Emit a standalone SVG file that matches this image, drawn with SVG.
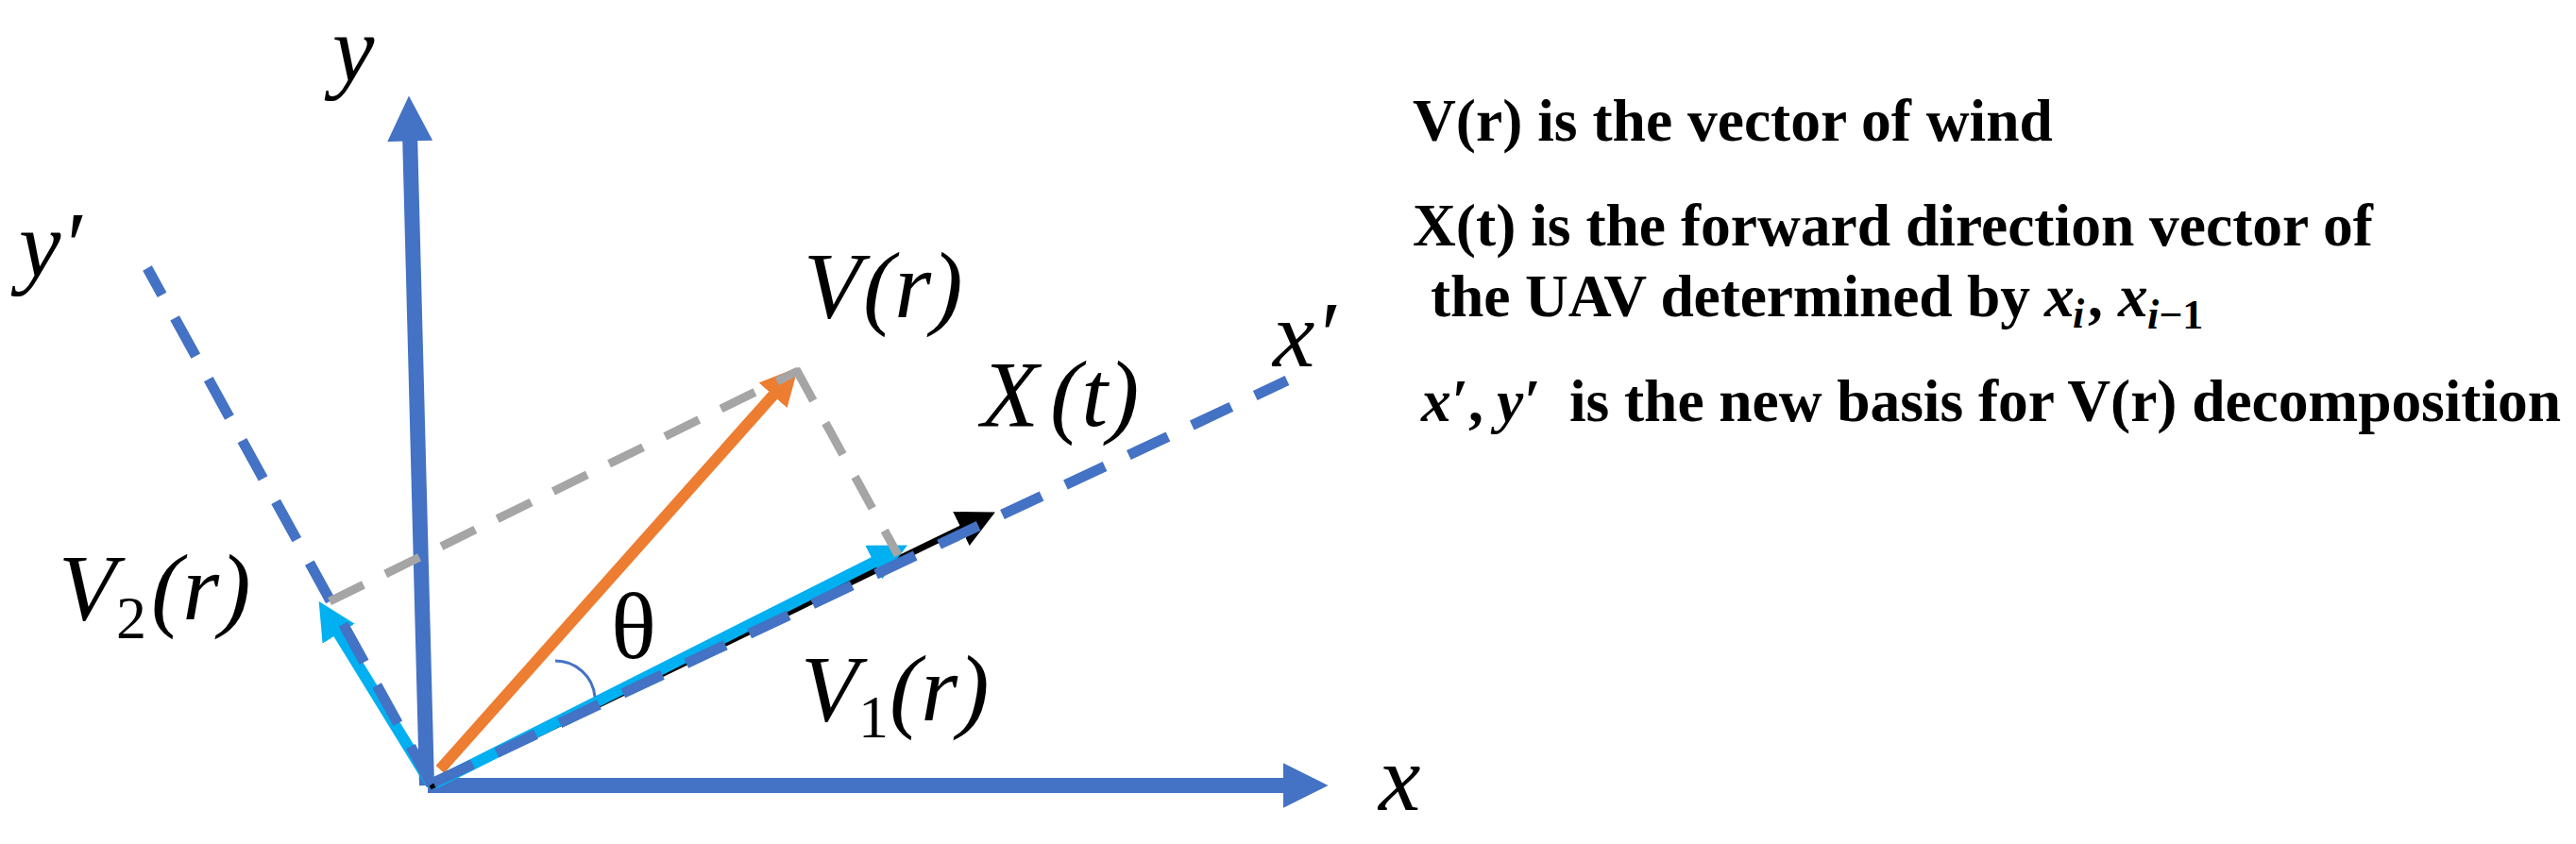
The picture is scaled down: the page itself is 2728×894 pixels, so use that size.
<svg xmlns="http://www.w3.org/2000/svg" width="2728" height="894" viewBox="0 0 2728 894">
<defs>
<style>
.math{font-family:"Liberation Serif","Times New Roman",serif;font-style:italic;font-size:100px;fill:#000}
.up{font-style:normal}
.legend{font-family:"Liberation Serif","Times New Roman",serif;font-weight:bold;font-size:63.5px;fill:#000}
.bi{font-style:italic}
.sub{font-size:44px}
.axis{stroke:#4472C4;stroke-width:16;fill:none}
.dashb{stroke:#4472C4;stroke-width:11;fill:none;stroke-dasharray:46 28}
.gray{stroke:#A5A5A5;stroke-width:9;fill:none}
.vec{fill:none}
</style>
<marker id="hAxis" viewBox="0 0 10 10" refX="0.3" refY="5" markerWidth="48" markerHeight="48" markerUnits="userSpaceOnUse" orient="auto"><path d="M0,0 L10,5 L0,10 z" fill="#4472C4"/></marker>
<marker id="hOrange" viewBox="0 0 10 10" refX="0.3" refY="5" markerWidth="40" markerHeight="40" markerUnits="userSpaceOnUse" orient="auto"><path d="M0,0 L10,5 L0,10 z" fill="#ED7D31"/></marker>
<marker id="hCyan" viewBox="0 0 10 10" refX="0.3" refY="5" markerWidth="40" markerHeight="40" markerUnits="userSpaceOnUse" orient="auto"><path d="M0,0 L10,5 L0,10 z" fill="#00B0F0"/></marker>
<marker id="hBlack" viewBox="0 0 10 10" refX="0.3" refY="5" markerWidth="40" markerHeight="40" markerUnits="userSpaceOnUse" orient="auto"><path d="M0,0 L10,5 L0,10 z" fill="#000"/></marker>
</defs>
<rect width="2728" height="894" fill="#fff"/>

<g id="connectors">
  <g id="axis-y"><line class="axis" x1="452" y1="832" x2="434.2" y2="148" stroke-width="15" marker-end="url(#hAxis)"/></g>
  <g id="axis-x"><line class="axis" x1="453" y1="832" x2="1360" y2="832" marker-end="url(#hAxis)"/></g>
  <g id="vec-V"><line class="vec" x1="466" y1="815" x2="819.4" y2="417.9" stroke="#ED7D31" stroke-width="12" marker-end="url(#hOrange)"/></g>
  <g id="vec-V2"><line class="vec" x1="457" y1="831" x2="358" y2="670.1" stroke="#00B0F0" stroke-width="12" marker-end="url(#hCyan)"/></g>
  <g id="vec-X"><line class="vec" x1="455" y1="833" x2="1019" y2="559.5" stroke="#000" stroke-width="7" marker-end="url(#hBlack)"/></g>
  <g id="vec-V1"><line class="vec" x1="460" y1="830" x2="926.3" y2="595" stroke="#00B0F0" stroke-width="12" marker-end="url(#hCyan)"/></g>
  <g id="axis-xprime"><line class="dashb" x1="459" y1="829" x2="1363" y2="403"/></g>
  <g id="axis-yprime"><line class="dashb" x1="457" y1="831" x2="156" y2="284"/></g>
  <g id="proj-lines">
    <line class="gray" x1="843" y1="391" x2="951" y2="588" stroke-dasharray="38 27"/>
    <line class="gray" x1="349" y1="637" x2="845" y2="393" stroke-dasharray="40 26"/>
  </g>
  <g id="angle-arc"><path d="M588 700 A42 42 0 0 1 630 738" fill="none" stroke="#4472C4" stroke-width="3"/></g>
</g>

<g id="label-y"><text class="math" x="352" y="86" font-size="96">y</text></g>
<g id="label-yprime"><text class="math" x="20" y="293">y′</text></g>
<g id="label-x"><text class="math" x="1460" y="858">x</text></g>
<g id="label-xprime"><text class="math" x="1348" y="388">x′</text></g>
<g id="label-V"><text class="math" x="851" y="336">V<tspan x="914">(r)</tspan></text></g>
<g id="label-X"><text class="math" x="1039" y="451">X<tspan x="1112">(t)</tspan></text></g>
<g id="label-V2"><text class="math" x="62" y="656">V<tspan class="up" x="123" y="676" font-size="64">2</tspan><tspan x="160" y="656">(r)</tspan></text></g>
<g id="label-V1"><text class="math" x="848" y="763">V<tspan class="up" x="909" y="781" font-size="64">1</tspan><tspan x="942" y="763">(r)</tspan></text></g>
<g id="label-theta"><text class="math up" x="647" y="697" font-size="96">θ</text></g>

<g id="legend">
  <text class="legend" x="1496" y="149">V(r) is the vector of wind</text>
  <text class="legend" x="1496" y="260">X(t) is the forward direction vector of</text>
  <text class="legend" x="1515" y="335" textLength="635" lengthAdjust="spacing">the UAV determined by</text>
  <text class="legend" x="2165" y="335"><tspan class="bi">x</tspan><tspan class="bi sub" x="2195" y="347">i</tspan><tspan x="2211" y="335">,</tspan><tspan class="bi" x="2243">x</tspan><tspan class="bi sub" x="2274" y="348">i</tspan><tspan class="sub">−1</tspan></text>
  <text class="legend" x="1505" y="446"><tspan class="bi">x′</tspan><tspan x="1555">,</tspan><tspan class="bi" x="1585">y′</tspan></text>
  <text class="legend" x="1662" y="446" textLength="1050" lengthAdjust="spacing">is the new basis for V(r) decomposition</text>
</g>
</svg>
